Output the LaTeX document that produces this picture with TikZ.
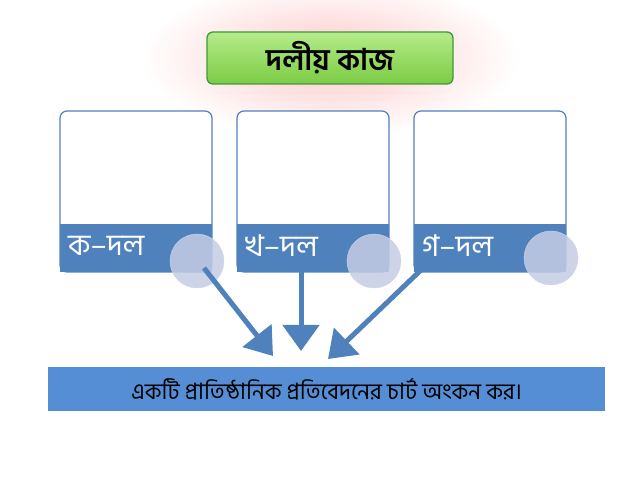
\documentclass[tikz,border=0pt]{standalone}
\usepackage{fontspec}
\newfontfamily\bn[Script=Bengali]{Hind Siliguri}
\usetikzlibrary{arrows.meta}
\definecolor{bandblue}{HTML}{4F81BD}
\definecolor{darkblue}{HTML}{3A66A0}
\definecolor{barblue}{HTML}{558ED5}
\definecolor{circfill}{HTML}{C5CCE4}
\definecolor{greentop}{HTML}{B4EC8A}
\definecolor{greenbot}{HTML}{7CCB45}
\definecolor{greenline}{HTML}{3E9A3A}
\tikzset{
  card/.style={draw=bandblue, line width=1.2pt, fill=white, rounded corners=7pt},
  band/.style={fill=bandblue, draw=none},
  bandtext/.style={text=white, font=\bn\fontsize{30}{32}\selectfont, anchor=west, inner sep=0pt},
  disc/.style={circle, fill=circfill, fill opacity=0.85, draw=circfill!80!white, minimum size=54pt, inner sep=0pt},
  blockarrow/.style={draw=bandblue, line width=5pt, -{Triangle[length=26pt,width=36pt,fill=bandblue]}},
}
\begin{document}
\begin{tikzpicture}[x=1pt,y=-1pt]
\useasboundingbox (0,0) rectangle (638,478);
% glow
\shade[inner color=red!22, outer color=white] (330,58) ellipse [x radius=190, y radius=80];
% title
\node (title) [draw=greenline, line width=1.3pt, rounded corners=6pt, top color=greentop, bottom color=greenbot,
  minimum width=246pt, minimum height=52pt, font=\bn\bfseries\fontsize{30}{32}\selectfont]
  at (330,58) {দলীয় কাজ};
% cards
\foreach \x/\lab/\nm in {60/ক–দল/a, 237/খ–দল/b, 414/গ–দল/c}{
  \draw[card] (\x,272) -- (\x,111) -- (\x+152,111) -- (\x+152,272) -- cycle;
  \fill[band] (\x,224) rectangle (\x+152,272);
  \node[bandtext] (lab\nm) at (\x+8,246) {\lab};
}
\node[disc] (ca) at (197,261) {};
\node[disc] (cb) at (374,261) {};
\node[disc] (cc) at (551,258) {};
% bottom bar
\node (task) [fill=barblue, minimum width=557pt, minimum height=44pt, inner sep=0pt,
  font=\bn\fontsize{22.5}{26}\selectfont, text=black] at (326.5,389) {একটি প্রাতিষ্ঠানিক প্রতিবেদনের চার্ট অংকন কর।};
% arrows
\coordinate (sa) at (204,268);
\coordinate (ta) at (273,356);
\coordinate (sb) at (301,271);
\coordinate (tb) at (301,351);
\coordinate (sc) at (421,270);
\coordinate (tc) at (328,359);
\draw[blockarrow] (sa) -- (ta);
\draw[blockarrow] (sb) -- (tb);
\draw[blockarrow] (sc) -- (tc);
\end{tikzpicture}
\end{document}
